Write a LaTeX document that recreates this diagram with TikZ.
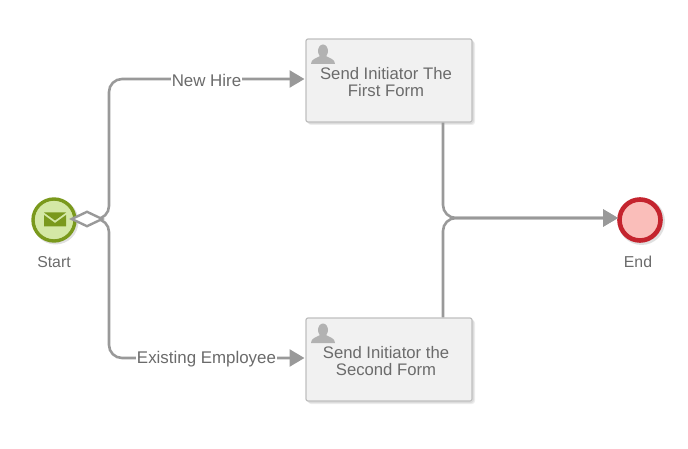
\documentclass[tikz,border=0pt]{standalone}
\usepackage{fontspec}
\setmainfont{Liberation Sans}
\usetikzlibrary{arrows.meta,shadows,shapes.geometric}
\definecolor{flowgray}{HTML}{999999}
\definecolor{txtgray}{HTML}{6B6B6B}
\definecolor{startline}{RGB}{122,153,28}
\definecolor{startfill}{RGB}{212,232,165}
\definecolor{endline}{RGB}{196,36,46}
\definecolor{endfill}{RGB}{250,190,186}
\tikzset{
  taskbox/.style={draw=black!25,line width=1.2pt,fill=black!5.5,rounded corners=2pt,minimum width=166pt,minimum height=83pt,inner sep=0pt},
  softshadow/.style={fill=black,opacity=.07,rounded corners=3pt,minimum width=167pt,minimum height=84pt,inner sep=0pt},
  tasktext/.style={text=txtgray,font=\fontsize{16.7}{17}\selectfont,align=center,inner sep=0pt},
  flow/.style={draw=flowgray,line width=2.6pt,rounded corners=13pt},
  arrowflow/.style={flow,-{Triangle[length=15pt,width=17pt,fill=flowgray]}},
  flowlabel/.style={fill=white,text=txtgray,font=\fontsize{16.9}{17}\selectfont,inner xsep=0.5pt,inner ysep=1pt},
  evlabel/.style={text=txtgray,font=\fontsize{15.8}{16}\selectfont,inner sep=0pt},
  personicon/.style={fill=black!30,draw=none},
}
\begin{document}
\begin{tikzpicture}[x=1pt,y=-1pt]
\useasboundingbox (0,0) rectangle (688,449);
% events
\node[circle,minimum size=46pt,inner sep=0pt,fill=black,opacity=.12] at (55.5,221.5) {};
\node (start) [circle,draw=startline,line width=3.4pt,fill=startfill,minimum size=42pt,inner sep=0pt] at (54,220) {};
\node[circle,fill=black,opacity=.12,minimum size=47pt,inner sep=0pt] at (641.5,221.5) {};
\node (finish) [circle,draw=endline,line width=4.6pt,fill=endfill,minimum size=41pt,inner sep=0pt] at (640,220) {};
% envelope
\fill[startline] (44,212.5) -- (66,212.5) -- (55,220.5) -- cycle;
\fill[startline] (44,215) -- (55,223) -- (66,215) -- (66,226.5) -- (44,226.5) -- cycle;
\node[evlabel] (startlabel) at (54,262) {Start};
\node[evlabel] (endlabel) at (638,262) {End};
% tasks
\foreach \sx/\sy in {389/80.5,389/359.5}{
  \node[softshadow] at (\sx+1.5,\sy+1.5) {};
  \node[softshadow] at (\sx+2.5,\sy+2.5) {};
}
\node[taskbox] (taskA) at (389,80.5) {};
\node[taskbox] (taskB) at (389,359.5) {};
% person icons
\foreach \yy in {39,318}{
  \fill[personicon] (323,\yy+12) ellipse (5pt and 6.5pt);
  \fill[personicon] (311,\yy+25) .. controls (311,\yy+20) and (316,\yy+19.5) .. (320,\yy+17) -- (326,\yy+17) .. controls (330,\yy+19.5) and (335,\yy+20) .. (335,\yy+25) -- cycle;
}
\node[tasktext] (textA) at (386,82) {Send Initiator The\\First Form};
\node[tasktext] (textB) at (386,361) {Send Initiator the\\Second Form};
% flows
\coordinate (busL) at (109,219);
\coordinate (busR) at (443,218);
\coordinate (rowA) at (0,79);
\coordinate (rowB) at (0,358);
\coordinate (tipA) at (304.5,79);
\coordinate (tipB) at (304.5,358);
\coordinate (tipE) at (618,218);
\node (gate) [diamond,minimum width=30pt,minimum height=14pt,inner sep=0pt,aspect=2] at (87,219) {};
\draw[arrowflow] (gate.east) -- (busL) -- (busL |- rowA) -- (tipA);
\draw[arrowflow] (gate.east) -- (busL) -- (busL |- rowB) -- (tipB);
\draw[arrowflow] (busR |- taskA.south) -- (busR) -- (tipE);
\draw[arrowflow] (busR |- taskB.north) -- (busR) -- (tipE);
\draw[flowgray,line width=2.4pt,fill=white] (gate.west) -- (gate.north) -- (gate.east) -- (gate.south) -- cycle;
\node[flowlabel] (lblA) at (206.5,80) {New Hire};
\node[flowlabel] (lblB) at (206.5,359) {Existing Employee};
\end{tikzpicture}
\end{document}
